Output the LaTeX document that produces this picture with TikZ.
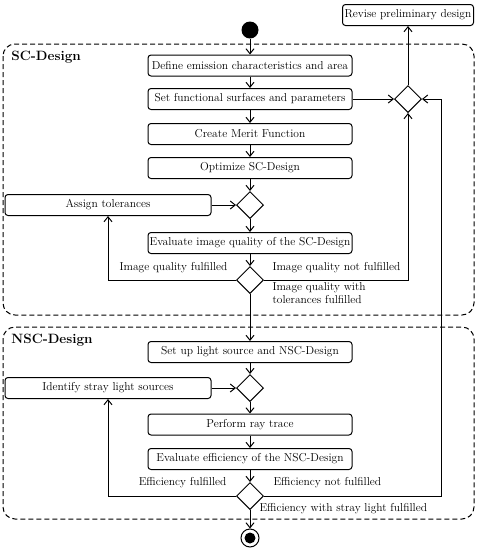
\documentclass[tikz,border=0pt]{standalone}
\usetikzlibrary{shapes.geometric,arrows.meta}
\begin{document}
\begin{tikzpicture}[x=1pt,y=-1pt,line width=1pt,
        font=\fontsize{11.5}{12.5}\selectfont,
        act/.style={draw,rounded corners=3pt,minimum width=204,minimum height=21,inner sep=1pt},
        dec/.style={draw,diamond,minimum width=27,minimum height=27,inner sep=0pt},
        frame/.style={dashed,dash pattern=on 5pt off 3pt,rounded corners=12pt},
        flow/.style={-{Straight Barb[length=5pt,width=8pt]}},
        lbl/.style={inner sep=1pt},
        title/.style={anchor=west,inner sep=0pt,font=\fontsize{13.5}{15}\selectfont\bfseries}]
    \useasboundingbox (0,0) rectangle (478,550);
    \draw[frame] (3,44) rectangle (474,315);
    \draw[frame] (3,327) rectangle (474,519);
    \node[title] (sc) at (11,57) {SC-Design};
    \node[title] (nsc) at (11,340) {NSC-Design};

    \node[circle,fill,inner sep=0pt,minimum size=17] (start) at (250,30) {};
    \node[act] (emis) at (250,65.5) {Define emission characteristics and area};
    \node[act] (surf) at (250,99) {Set functional surfaces and parameters};
    \node[act] (merit) at (250,134) {Create Merit Function};
    \node[act] (opt) at (250,168) {Optimize SC-Design};
    \node[dec] (d1) at (250,205) {};
    \node[act,minimum width=206] (tol) at (108,205) {Assign tolerances};
    \node[act] (evalsc) at (250,243) {Evaluate image quality of the SC-Design};
    \node[dec] (d2) at (250,280) {};
    \node[dec] (d3) at (408,99) {};
    \node[act,minimum width=131] (rev) at (408,15) {Revise preliminary design};

    \node[act] (light) at (250,352) {Set up light source and NSC-Design};
    \node[dec] (d4) at (250,388) {};
    \node[act,minimum width=206] (stray) at (108,388) {Identify stray light sources};
    \node[act] (ray) at (250,424.5) {Perform ray trace};
    \node[act] (evalnsc) at (250,459) {Evaluate efficiency of the NSC-Design};
    \node[dec] (d5) at (250,496) {};
    \node[circle,draw,inner sep=0pt,minimum size=18] (stop) at (250,538) {};
    \fill (stop) circle (5.5);
    \coordinate (back) at (441,99);

    \node[lbl,anchor=east] at (229,268) {Image quality fulfilled};
    \node[lbl,anchor=west] at (271,268) {Image quality not fulfilled};
    \node[lbl,anchor=north west,align=left] at (271,281.5) {Image quality with\\tolerances fulfilled};
    \node[lbl,anchor=east] at (228,483) {Efficiency fulfilled};
    \node[lbl,anchor=west] at (272,483) {Efficiency not fulfilled};
    \node[lbl,anchor=west] at (258,509) {Efficiency with stray light fulfilled};

    \draw[flow] (start) -- (emis);
    \draw[flow] (emis) -- (surf);
    \draw[flow] (surf) -- (merit);
    \draw[flow] (merit) -- (opt);
    \draw[flow] (opt) -- (d1);
    \draw[flow] (d1) -- (evalsc);
    \draw[flow] (evalsc) -- (d2);
    \draw[flow] (tol) -- (d1);
    \draw[flow] (d2.west) -| (tol.south);
    \draw[flow] (d2.east) -| (d3.south);
    \draw[flow] (surf) -- (d3);
    \draw[flow] (d3) -- (rev);
    \draw[flow] (d2) -- (light);
    \draw[flow] (light) -- (d4);
    \draw[flow] (d4) -- (ray);
    \draw[flow] (ray) -- (evalnsc);
    \draw[flow] (evalnsc) -- (d5);
    \draw[flow] (stray) -- (d4);
    \draw[flow] (d5.west) -| (stray.south);
    \draw[flow] (d5.east) -| (back) -- (d3.east);
    \draw[flow] (d5) -- (stop);
\end{tikzpicture}
\end{document}
